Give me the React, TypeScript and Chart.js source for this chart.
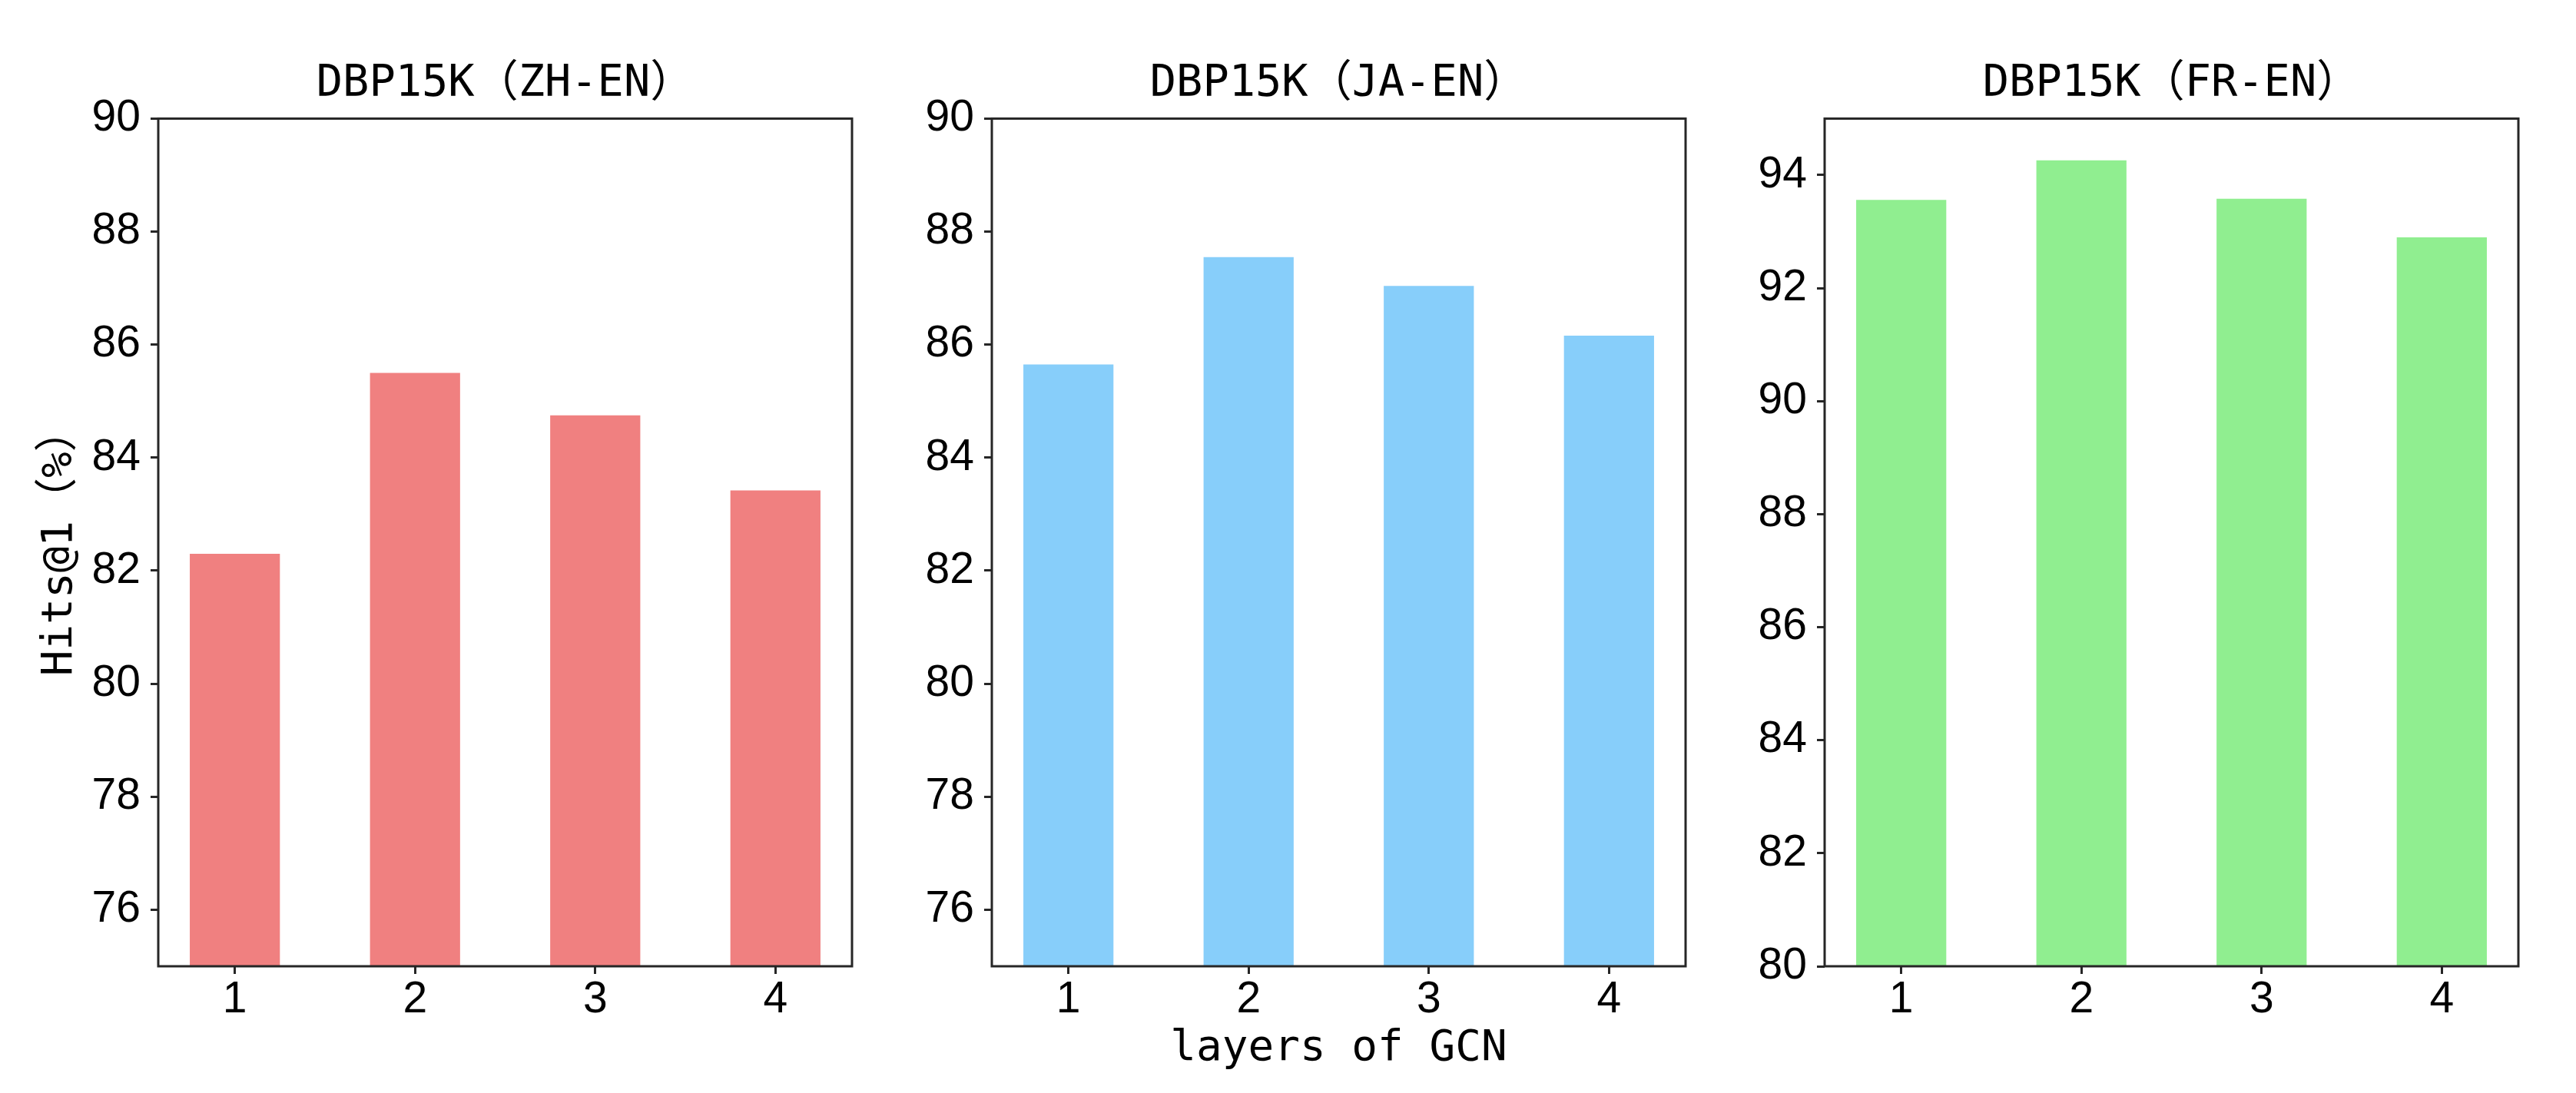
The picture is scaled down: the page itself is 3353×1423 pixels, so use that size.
import React, { useEffect, useRef } from 'react';
import { Chart, registerables } from 'chart.js';

Chart.register(...registerables);

// ---- data ----
const categories = ['1', '2', '3', '4'];
const xPositions = [0, 1, 2, 3];
const zhEnValues = [82.3, 85.5, 84.75, 83.42];
const jaEnValues = [85.65, 87.55, 87.04, 86.16];
const frEnValues = [93.56, 94.26, 93.58, 92.9];
const ticksLow = [76, 78, 80, 82, 84, 86, 88, 90];
const ticksFr = [80, 82, 84, 86, 88, 90, 92, 94];
const panelTitles = ['DBP15K（ZH-EN）', 'DBP15K（JA-EN）', 'DBP15K（FR-EN）'];
const yAxisLabel = 'Hits@1（%）';
const xAxisLabel = 'layers of GCN';
const barColors = ['#F08080', '#87CEFA', '#90EE90'];

// ---- style/layout ----
const LABEL_FONT = "'DejaVu Sans Mono', 'Noto Sans CJK SC', sans-serif";
const TICK_FONT = "'Liberation Sans', Arial, sans-serif";
const Y_AXIS_W = 206;
const PLOT_W = 903;
const RIGHT_PAD = 30;
const CANVAS_W = Y_AXIS_W + PLOT_W + RIGHT_PAD;
const CANVAS_H = 1423;
const X_AXIS_H = 165;
const SPINE = '#262626';

const framePlugin = {
  id: 'frame',
  afterDraw(chart: any) {
    const { ctx, chartArea } = chart;
    const { left, top, right, bottom } = chartArea;
    ctx.save();
    ctx.strokeStyle = SPINE;
    ctx.lineWidth = 3;
    ctx.strokeRect(left, top, right - left, bottom - top);
    ctx.restore();
  },
};

type PanelProps = {
  left: number;
  values: number[];
  color: string;
  title: string;
  yMin: number;
  yMax: number;
  yTicks: number[];
  showYTitle: boolean;
  showXTitle: boolean;
};

function Panel(props: PanelProps) {
  const ref = useRef<HTMLCanvasElement | null>(null);
  useEffect(() => {
    if (!ref.current) return;
    const { values, color, title, yMin, yMax, yTicks, showYTitle, showXTitle } = props;
    const chart = new Chart(ref.current, {
      type: 'bar',
      data: {
        datasets: [
          {
            data: xPositions.map((x, i) => ({ x, y: values[i] })),
            backgroundColor: color,
            borderWidth: 0,
            barPercentage: 0.5,
            categoryPercentage: 1,
          } as any,
        ],
      },
      options: {
        animation: false,
        responsive: false,
        events: [],
        layout: { padding: { left: 0, right: RIGHT_PAD, top: 0, bottom: 0 } },
        plugins: {
          legend: { display: false },
          tooltip: { enabled: false },
          title: {
            display: true,
            text: title,
            fullSize: false,
            color: '#000',
            font: { family: LABEL_FONT, size: 57, weight: 'normal' },
            padding: { top: 76, bottom: 10 },
          },
        },
        scales: {
          x: {
            type: 'linear',
            min: -0.425,
            max: 3.425,
            offset: false,
            afterBuildTicks: (scale: any) => {
              scale.ticks = xPositions.map((v) => ({ value: v }));
            },
            afterFit: (scale: any) => {
              scale.height = X_AXIS_H;
            },
            ticks: {
              color: '#000',
              font: { family: TICK_FONT, size: 57 },
              padding: 0,
              maxRotation: 0,
              callback: (v: any) => categories[Math.round(Number(v))] ?? '',
            },
            grid: {
              display: true,
              offset: false,
              drawOnChartArea: false,
              drawTicks: true,
              tickLength: 10,
              color: SPINE,
              lineWidth: 3,
            },
            border: { display: false },
            title: {
              display: showXTitle,
              text: xAxisLabel,
              color: '#000',
              font: { family: LABEL_FONT, size: 56 },
              padding: { top: 0, bottom: 24 },
            },
          },
          y: {
            type: 'linear',
            min: yMin,
            max: yMax,
            afterBuildTicks: (scale: any) => {
              scale.ticks = yTicks.map((v) => ({ value: v }));
            },
            afterFit: (scale: any) => {
              scale.width = Y_AXIS_W;
            },
            ticks: {
              color: '#000',
              font: { family: TICK_FONT, size: 57 },
              padding: 13,
            },
            grid: {
              display: true,
              offset: false,
              drawOnChartArea: false,
              drawTicks: true,
              tickLength: 10,
              color: SPINE,
              lineWidth: 3,
            },
            border: { display: false },
            title: {
              display: showYTitle,
              text: yAxisLabel,
              color: '#000',
              font: { family: LABEL_FONT, size: 56 },
              padding: { top: 45, bottom: 0 },
            },
          },
        },
      } as any,
      plugins: [framePlugin],
    });
    return () => chart.destroy();
  }, []);
  return (
    <canvas
      ref={ref}
      width={CANVAS_W}
      height={CANVAS_H}
      style={{ position: 'absolute', left: props.left, top: 0, width: CANVAS_W, height: CANVAS_H }}
    />
  );
}

const plotLefts = [206, 1291, 2375];

export default function App() {
  return (
    <div
      style={{
        position: 'absolute',
        left: 0,
        top: 0,
        width: 3353,
        height: 1423,
        background: '#fff',
        overflow: 'hidden',
      }}
    >
      <Panel
        left={plotLefts[0] - Y_AXIS_W}
        values={zhEnValues}
        color={barColors[0]}
        title={panelTitles[0]}
        yMin={75}
        yMax={90}
        yTicks={ticksLow}
        showYTitle={true}
        showXTitle={false}
      />
      <Panel
        left={plotLefts[1] - Y_AXIS_W}
        values={jaEnValues}
        color={barColors[1]}
        title={panelTitles[1]}
        yMin={75}
        yMax={90}
        yTicks={ticksLow}
        showYTitle={false}
        showXTitle={true}
      />
      <Panel
        left={plotLefts[2] - Y_AXIS_W}
        values={frEnValues}
        color={barColors[2]}
        title={panelTitles[2]}
        yMin={80}
        yMax={95}
        yTicks={ticksFr}
        showYTitle={false}
        showXTitle={false}
      />
    </div>
  );
}
